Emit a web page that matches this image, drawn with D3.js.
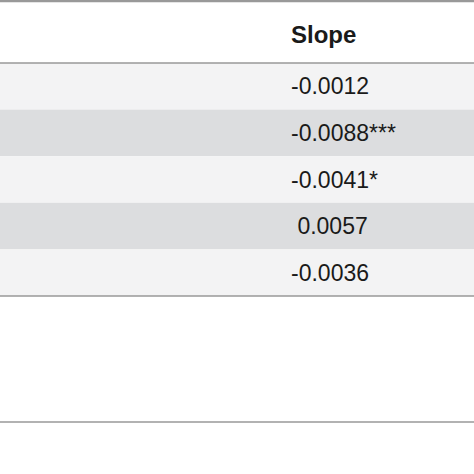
<!DOCTYPE html>
<html>
<head>
<meta charset="utf-8">
<script src="https://d3js.org/d3.v7.min.js"></script>
<style>body{margin:0;background:#fff}</style>
</head>
<body>
<div id="table"></div>
<script>
// Table values
const header = "Slope";
const slopes = ["-0.0012", "-0.0088***", "-0.0041*", "\u00a00.0057", "-0.0036"];

const width = 474, height = 474;
const tableTop = 63, rowH = 46.6;

const svg = d3.select("#table").append("svg")
    .attr("width", width)
    .attr("height", height);

// Row position scale
const y = d3.scaleBand()
    .domain(d3.range(slopes.length))
    .range([tableTop, tableTop + rowH * slopes.length]);

// Striped row backgrounds
svg.selectAll(".row")
    .data(slopes)
    .enter()
    .append("rect")
    .attr("x", 0)
    .attr("y", (d, i) => y(i))
    .attr("width", width)
    .attr("height", y.bandwidth())
    .attr("fill", (d, i) => i % 2 ? "#dcdddf" : "#f3f3f4");

// Slope values
svg.selectAll(".val")
    .data(slopes)
    .enter()
    .append("text")
    .attr("x", 291)
    .attr("y", (d, i) => y(i) + y.bandwidth() / 2 + 8)
    .style("font-family", "Liberation Sans, Arial, sans-serif")
    .style("font-size", "23px")
    .attr("fill", "#1a1a1a")
    .text(d => d);

// Header
svg.append("text")
    .attr("x", 291)
    .attr("y", 43)
    .style("font-family", "Liberation Sans, Arial, sans-serif")
    .style("font-size", "24px")
    .style("font-weight", "bold")
    .attr("fill", "#1a1a1a")
    .text(header);

// Rules
const rules = [[1, 2.5], [tableTop, 1.5], [tableTop + rowH * slopes.length, 1.5], [422, 1.5]];
svg.selectAll(".rule")
    .data(rules)
    .enter()
    .append("line")
    .attr("x1", 0).attr("x2", width)
    .attr("y1", d => d[0]).attr("y2", d => d[0])
    .attr("stroke", "#999")
    .attr("stroke-width", d => d[1]);
</script>
</body>
</html>
